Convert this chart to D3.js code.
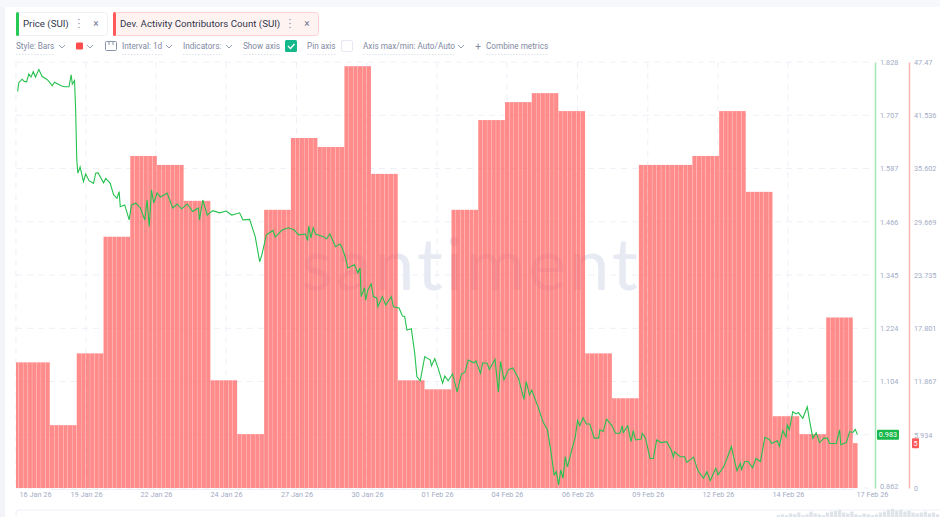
<!DOCTYPE html>
<html>
<head>
<meta charset="utf-8">
<script src="https://cdn.jsdelivr.net/npm/d3@7"></script>
<style>
  html, body { margin: 0; padding: 0; background: #fff; overflow: hidden; }
  svg { display: block; font-family: Roboto, "Noto Sans", sans-serif; }
</style>
</head>
<body>
<div id="chart"></div>
<script>
// daily contributors, 16 Jan .. 16 Feb
var devCounts = [14, 7, 15, 28, 37, 36, 32, 12, 6, 31, 39, 38, 47, 35, 12, 11,
    31, 41, 43, 44, 42, 15, 10, 36, 36, 37, 42, 33, 8, 6, 19, 5];

// price readings: hours since 15 Jan 00:00 UTC, and price
var priceHours = [19, 20, 23, 25, 27, 29, 31, 33, 35, 38, 41, 45, 47, 50, 52, 55, 58, 61, 65, 67,
    68, 70, 71, 72, 73, 75, 78, 80, 83, 87, 89, 91, 96, 98, 102, 105, 108, 110, 111, 115,
    119, 121, 125, 129, 133, 135, 137, 139, 141, 144, 147, 153, 158, 162, 166, 171, 176, 181, 182, 185,
    189, 194, 200, 206, 211, 218, 221, 227, 232, 236, 238, 242, 248, 250, 256, 262, 267, 271, 277, 279,
    280, 282, 284, 286, 293, 296, 299, 304, 308, 310, 313, 315, 321, 324, 326, 327, 330, 331, 333, 336,
    338, 341, 342, 346, 349, 354, 356, 361, 364, 366, 368, 372, 375, 377, 380, 384, 389, 390, 393, 396,
    400, 402, 405, 409, 413, 417, 420, 423, 428, 430, 434, 436, 440, 442, 447, 450, 452, 455, 459, 463,
    468, 473, 475, 478, 480, 486, 490, 494, 497, 500, 502, 504, 506, 508, 510, 512, 516, 519, 521, 523,
    526, 529, 532, 536, 540, 541, 544, 547, 552, 555, 559, 561, 562, 566, 569, 571, 573, 578, 579, 582,
    586, 589, 592, 596, 601, 605, 607, 608, 613, 617, 619, 625, 629, 634, 637, 640, 645, 647, 652, 655,
    659, 661, 664, 667, 668, 671, 674, 678, 681, 685, 689, 693, 695, 700, 702, 705, 708, 709, 711, 714,
    717, 719, 723, 727, 729, 732, 735, 738, 742, 745, 747, 753, 756, 757, 762, 765, 768, 770, 772];

var priceValues = [1.761, 1.781, 1.789, 1.784, 1.783, 1.801, 1.794, 1.806, 1.794, 1.811, 1.795, 1.789, 1.784, 1.774, 1.782, 1.778, 1.774, 1.772, 1.772, 1.799,
    1.778, 1.786, 1.719, 1.606, 1.576, 1.590, 1.557, 1.574, 1.559, 1.553, 1.576, 1.577, 1.554, 1.564, 1.553, 1.527, 1.519, 1.534, 1.500, 1.504,
    1.470, 1.504, 1.508, 1.497, 1.470, 1.515, 1.455, 1.538, 1.508, 1.531, 1.522, 1.531, 1.497, 1.506, 1.495, 1.506, 1.489, 1.497, 1.470, 1.515,
    1.481, 1.491, 1.486, 1.490, 1.481, 1.486, 1.470, 1.471, 1.432, 1.375, 1.391, 1.436, 1.446, 1.431, 1.447, 1.452, 1.447, 1.436, 1.438, 1.423,
    1.456, 1.429, 1.452, 1.438, 1.432, 1.427, 1.438, 1.409, 1.415, 1.406, 1.384, 1.361, 1.368, 1.350, 1.361, 1.296, 1.316, 1.288, 1.311, 1.325,
    1.296, 1.293, 1.273, 1.296, 1.277, 1.296, 1.273, 1.270, 1.252, 1.251, 1.220, 1.223, 1.168, 1.114, 1.105, 1.160, 1.152, 1.139, 1.155, 1.134,
    1.100, 1.116, 1.105, 1.121, 1.080, 1.121, 1.124, 1.152, 1.146, 1.150, 1.122, 1.146, 1.145, 1.131, 1.154, 1.080, 1.149, 1.107, 1.130, 1.134,
    1.111, 1.063, 1.103, 1.073, 1.084, 1.043, 1.012, 0.994, 0.948, 0.892, 0.899, 0.869, 0.903, 0.884, 0.933, 0.910, 0.950, 0.978, 1.015, 1.003,
    1.021, 1.007, 1.007, 0.975, 0.975, 0.994, 0.990, 1.018, 1.003, 0.986, 0.986, 1.003, 0.988, 1.003, 0.967, 0.992, 0.971, 0.973, 0.986, 0.975,
    0.929, 0.929, 0.971, 0.965, 0.967, 0.948, 0.932, 0.944, 0.933, 0.933, 0.920, 0.932, 0.901, 0.884, 0.899, 0.879, 0.907, 0.892, 0.910, 0.929,
    0.956, 0.932, 0.901, 0.918, 0.904, 0.922, 0.922, 0.908, 0.929, 0.922, 0.977, 0.972, 0.963, 0.969, 0.957, 0.992, 0.978, 1.005, 0.994, 1.035,
    1.030, 1.033, 1.020, 1.046, 1.016, 0.975, 0.987, 0.965, 0.975, 0.975, 0.963, 0.963, 0.994, 0.960, 0.965, 0.990, 0.988, 0.995, 0.983];

var priceTicks = ["1.828", "1.707", "1.587", "1.466", "1.345", "1.224", "1.104", "0.983", "0.862"];
var devTicks = ["47.47", "41.536", "35.602", "29.669", "23.735", "17.801", "11.867", "5.934", "0"];
var dateLabels = ["16 Jan 26", "19 Jan 26", "22 Jan 26", "24 Jan 26", "27 Jan 26", "30 Jan 26", "01 Feb 26",
    "04 Feb 26", "06 Feb 26", "09 Feb 26", "12 Feb 26", "14 Feb 26", "17 Feb 26"];
var dateHours = [17.5, 80.3, 143, 205.8, 269, 332.2, 395, 457.7, 520.9, 584, 646.9, 709.6, 772.4];
var navValues = [2, 3, 2, 4, 3, 5, 2, 3, 6, 4, 3, 2, 5, 6, 7, 8, 5, 4, 6, 3, 2, 4, 3, 2, 3, 5, 6, 8, 9, 7, 8, 6, 7, 5, 4, 5, 6, 4, 5, 3];

var svgWidth = 940;
var svgHeight = 517;
var green = "#26c24f";
var red = "#ff5a5a";
var gray = "#7f89a3";
var tickGray = "#a3acc6";
var gridColor = "#eef0f8";

var svg = d3.select("#chart").append("svg")
    .attr("width", svgWidth)
    .attr("height", svgHeight);

function hoursToDate(h) {
    return new Date(Date.UTC(2026, 0, 15) + h * 3600000);
}

var xScale = d3.scaleUtc()
    .domain([new Date(Date.UTC(2026, 0, 17)), new Date(Date.UTC(2026, 1, 16))])
    .range([50, 853]);
var priceScale = d3.scaleLinear().domain([0.862, 1.828]).range([488, 62]);
var devScale = d3.scaleLinear().domain([0, 47.47]).range([488, 62]);

var tickStep = (priceScale.domain()[1] - priceScale.domain()[0]) / (priceTicks.length - 1);
var priceTickValues = priceTicks.map(function(d, i) { return priceScale.domain()[1] - i * tickStep; });
var devTickValues = priceTicks.map(function(d, i) { return 47.47 - i * 47.47 / (priceTicks.length - 1); });

// page frame
svg.append("rect").attr("x", 0).attr("y", 0).attr("width", 5).attr("height", svgHeight).attr("fill", "#f2f4fa");
svg.append("rect").attr("x", 0).attr("y", 0).attr("width", svgWidth).attr("height", 7).attr("fill", "#f7f8fc");

// grid
var gridTimes = dateHours.slice(0, -1).map(hoursToDate);
svg.append("g").selectAll("line").data(priceTickValues).enter().append("line")
    .attr("x1", 16).attr("x2", 873)
    .attr("y1", function(d) { return priceScale(d); })
    .attr("y2", function(d) { return priceScale(d); })
    .attr("stroke", gridColor).attr("stroke-dasharray", "6,5");
svg.append("g").selectAll("line").data(gridTimes).enter().append("line")
    .attr("x1", function(d) { return xScale(d); })
    .attr("x2", function(d) { return xScale(d); })
    .attr("y1", 62).attr("y2", 488)
    .attr("stroke", gridColor).attr("stroke-dasharray", "6,5");

// watermark
svg.append("text")
    .attr("x", 471).attr("y", 290)
    .attr("text-anchor", "middle")
    .attr("font-family", "Lato, sans-serif")
    .attr("font-weight", 400)
    .attr("font-size", 72)
    .attr("letter-spacing", 3)
    .attr("fill", "#e7eaf3")
    .text("santiment");

// bars, cut in 4h slices like the fine grained source data
var dataStart = hoursToDate(17.5);
var dataEnd = hoursToDate(772.6);
var slices = [];
devCounts.forEach(function(v, i) {
    var dayStart = new Date(Date.UTC(2026, 0, 16 + i));
    var dayEnd = new Date(Date.UTC(2026, 0, 17 + i));
    var from = i == 0 ? dataStart : dayStart;
    var to = i == devCounts.length - 1 ? dataEnd : dayEnd;
    var cuts = [from].concat(d3.utcHour.range(d3.utcHour.offset(from, 1), to, 1).filter(function(t) {
        return t.getUTCHours() % 4 == 0;
    }), [to]);
    for (var k = 0; k < cuts.length - 1; k++) {
        slices.push({start: cuts[k], end: cuts[k + 1], value: v});
    }
});

// the small gap leaves the pale seams seen inside the bars
svg.append("g").selectAll("rect").data(slices).enter().append("rect")
    .attr("x", function(d) { return xScale(d.start); })
    .attr("y", function(d) { return devScale(d.value); })
    .attr("width", function(d) { return xScale(d.end) - xScale(d.start) - 0.25; })
    .attr("height", function(d) { return devScale(0) - devScale(d.value); })
    .attr("fill", red)
    .attr("fill-opacity", 0.7);

// price line
var line = d3.line()
    .x(function(d, i) { return xScale(hoursToDate(priceHours[i])); })
    .y(function(d) { return priceScale(d); });

svg.append("path")
    .datum(priceValues)
    .attr("d", line)
    .attr("fill", "none")
    .attr("stroke", green)
    .attr("stroke-width", 1.1);

// y axes; the 0.983 price tick is carried by the value tag below
var priceAxis = d3.axisRight(priceScale)
    .tickValues(priceTickValues.filter(function(d, i) { return priceTicks[i] != "0.983"; }))
    .tickSize(0)
    .tickPadding(5)
    .tickFormat(function(d) { return priceTicks[priceTickValues.indexOf(d)]; });
var devAxis = d3.axisRight(devScale)
    .tickValues(devTickValues)
    .tickSize(0)
    .tickPadding(5)
    .tickFormat(function(d, i) { return devTicks[i]; });

var priceG = svg.append("g").attr("transform", "translate(875,0)").call(priceAxis);
var devG = svg.append("g").attr("transform", "translate(909,0)").call(devAxis);
priceG.select(".domain").attr("stroke", "#a6e6b6").attr("stroke-width", 1.5);
devG.select(".domain").attr("stroke", "#ffb5b5").attr("stroke-width", 1.5);

// x axis
var dateAxis = d3.axisBottom(xScale)
    .tickValues(dateHours.map(hoursToDate))
    .tickSize(0)
    .tickPadding(3)
    .tickFormat(function(d, i) { return dateLabels[i]; });
var dateG = svg.append("g").attr("transform", "translate(0,489)").call(dateAxis);
dateG.select(".domain").attr("stroke", "#eef0f8");
dateG.selectAll("text").attr("dx", function(d, i) {
    if (i == 0) return 19;
    if (i == dateLabels.length - 1) return 14;
    return 0;
});

svg.selectAll(".tick text")
    .attr("fill", tickGray)
    .attr("font-size", 7.3)
    .attr("font-family", "Roboto, sans-serif");

// sit the lowest price label just above the date row
priceG.selectAll(".tick text").filter(function(d) { return priceTicks[priceTickValues.indexOf(d)] == "0.862"; })
    .attr("dy", "0.1em");

// last value tags
svg.append("rect")
    .attr("x", 877).attr("y", priceScale(0.983) - 5).attr("width", 22).attr("height", 10)
    .attr("fill", "#19b84a").attr("rx", 1);
svg.append("text")
    .attr("x", 888).attr("y", priceScale(0.983) + 2.7)
    .attr("text-anchor", "middle").attr("font-size", 7.3).attr("fill", "#fff")
    .text("0.983");
svg.append("rect")
    .attr("x", 912).attr("y", devScale(5) - 5).attr("width", 7).attr("height", 10)
    .attr("fill", "#ff5a5a").attr("rx", 1);
svg.append("text")
    .attr("x", 915.5).attr("y", devScale(5) + 2.7)
    .attr("text-anchor", "middle").attr("font-size", 7.3).attr("fill", "#fff")
    .text("5");

// metric chips
function chip(x, w, label, color, bg, border, dotsX) {
    svg.append("rect")
        .attr("x", x + 0.5).attr("y", 12.5).attr("width", w).attr("height", 23).attr("rx", 3)
        .attr("fill", bg).attr("stroke", border);
    svg.append("rect")
        .attr("x", x).attr("y", 12).attr("width", 3).attr("height", 24).attr("rx", 1.5)
        .attr("fill", color);
    svg.append("text")
        .attr("x", x + 7).attr("y", 27)
        .attr("font-size", 9.7).attr("fill", "#2f354b")
        .text(label);
    [-4, 0, 4].forEach(function(d) {
        svg.append("circle").attr("cx", dotsX).attr("cy", 23.5 + d).attr("r", 0.8).attr("fill", "#9aa3b8");
    });
    svg.append("text")
        .attr("x", dotsX + 17).attr("y", 27)
        .attr("text-anchor", "middle").attr("font-size", 10).attr("fill", "#6d7690")
        .text("×");
}
chip(16, 91, "Price (SUI)", "#26c953", "#ffffff", "#eef0f5", 79);
chip(113, 205, "Dev. Activity Contributors Count (SUI)", "#ff5a5a", "#fff3f2", "#ffd3d1", 290);

// toolbar
var toolbarLabels = ["Style: Bars", "Interval: 1d", "Indicators:", "Show axis", "Pin axis", "Axis max/min: Auto/Auto", "Combine metrics"];
var toolbarX = [16, 122, 183, 243, 307, 363, 486];
toolbarLabels.forEach(function(d, i) {
    var t = svg.append("text")
        .attr("x", toolbarX[i]).attr("y", 49)
        .attr("font-size", 8.2).attr("fill", gray)
        .text(d);
    var w = t.node().getComputedTextLength();
    svg.append("line")
        .attr("x1", toolbarX[i]).attr("x2", toolbarX[i] + w)
        .attr("y1", 54.5).attr("y2", 54.5)
        .attr("stroke", "#dfe3ee").attr("stroke-dasharray", "1.5,1.5");
});

function chevron(x) {
    svg.append("path")
        .attr("d", d3.line()([[x - 3, 45], [x, 48], [x + 3, 45]]))
        .attr("fill", "none").attr("stroke", "#8b94ad").attr("stroke-width", 0.9);
}
[62, 90, 169, 229, 461].forEach(chevron);

svg.append("rect").attr("x", 76).attr("y", 42.5).attr("width", 7).attr("height", 7).attr("rx", 1).attr("fill", "#ff4d4d");

// interval icon
svg.append("rect").attr("x", 105.5).attr("y", 41.5).attr("width", 11).attr("height", 9).attr("rx", 1)
    .attr("fill", "none").attr("stroke", "#8b94ad");
svg.append("path").attr("d", "M109 42v3M113 42v3").attr("stroke", "#8b94ad");

// show axis / pin axis boxes
svg.append("rect").attr("x", 285).attr("y", 40).attr("width", 12).attr("height", 12).attr("rx", 1.5).attr("fill", "#14b88a");
svg.append("path").attr("d", "M288 46l2.5 2.5l4-4.5").attr("fill", "none").attr("stroke", "#fff").attr("stroke-width", 1.3);
svg.append("rect").attr("x", 341.5).attr("y", 40.5).attr("width", 11).attr("height", 11).attr("rx", 1.5)
    .attr("fill", "#fff").attr("stroke", "#e6e9f2");
svg.append("text").attr("x", 478).attr("y", 49.5).attr("text-anchor", "middle")
    .attr("font-size", 10).attr("fill", gray).text("+");

// navigator strip under the chart
svg.append("path")
    .attr("d", "M16,517V513a3,3 0 0 1 3,-3H940")
    .attr("fill", "none").attr("stroke", "#eef0f6");
var navX = d3.scaleBand().domain(d3.range(navValues.length)).range([776, 940]).padding(0.2);
var navY = d3.scaleLinear().domain([0, 10]).range([517, 508]);
svg.append("g").selectAll("rect").data(navValues).enter().append("rect")
    .attr("x", function(d, i) { return navX(i); })
    .attr("y", function(d) { return navY(d); })
    .attr("width", navX.bandwidth())
    .attr("height", function(d) { return navY(0) - navY(d); })
    .attr("fill", "#dfe3ea");
</script>
</body>
</html>
